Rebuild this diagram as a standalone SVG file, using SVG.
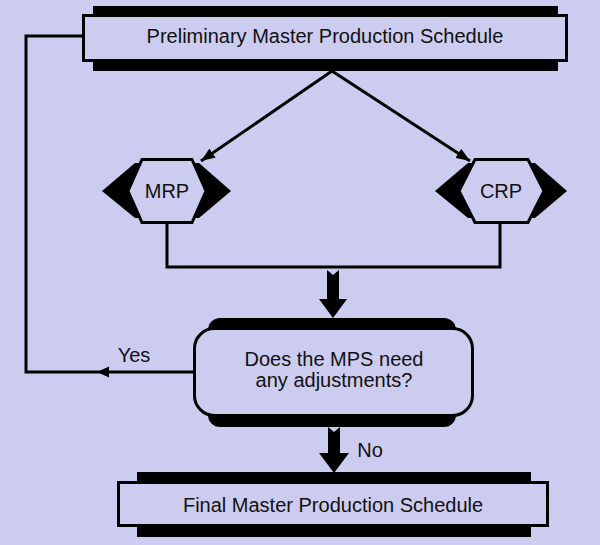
<svg xmlns="http://www.w3.org/2000/svg" width="600" height="545" viewBox="0 0 600 545">
<style>
.bg{fill:#CCCCF0}
.shadow{fill:#000}
.front{fill:#CCCCF0;stroke:#000;stroke-width:3}
.line{fill:none;stroke:#000;stroke-width:3}
.lbl{font-family:"Liberation Sans",Arial,sans-serif;font-size:20px;fill:#111;text-anchor:middle}
</style>
<defs>
<marker id="ah" markerUnits="userSpaceOnUse" markerWidth="15" markerHeight="11" refX="14" refY="5.5" orient="auto">
<path d="M0,0 L14,5.5 L0,11 z" fill="#000"/>
</marker>
</defs>
<rect class="bg" x="0" y="0" width="600" height="545"/>
<g id="connectors">
<line class="line" x1="332" y1="71" x2="201" y2="161" marker-end="url(#ah)"/>
<line class="line" x1="332" y1="71" x2="470" y2="161" marker-end="url(#ah)"/>
<polyline class="line" points="167,223 167,267 500,267 500,223"/>
<polygon class="shadow" points="327,270 333,275 339,270 339,299 347,299 333,318 319,299 327,299"/>
<polyline class="line" points="193,372 26,372 26,36 83,36"/>
<polygon class="shadow" points="97,372 109,366.5 109,377.5"/>
<polygon class="shadow" points="328,427 334,432 340,427 340,453 349,453 334,473 319,453 328,453"/>
<text class="lbl" x="134" y="362">Yes</text>
<text class="lbl" x="370" y="457">No</text>
</g>
<g id="prelim-mps">
<rect class="shadow" x="93" y="6" width="465" height="65"/>
<rect class="front" x="83.5" y="15.5" width="483" height="45"/>
<text class="lbl" x="325" y="43">Preliminary Master Production Schedule</text>
</g>
<g id="mrp">
<polygon class="shadow" points="135,163 199,163 231,191 199,218 135,218 102,191"/>
<polygon class="front" points="142,159.5 192,159.5 206,191 192,222.5 142,222.5 128,191"/>
<text class="lbl" x="167" y="198">MRP</text>
</g>
<g id="crp">
<polygon class="shadow" points="468,163 535,163 567,191 535,218 468,218 435,191"/>
<polygon class="front" points="475,159.5 528,159.5 544,191 528,222.5 475,222.5 459,191"/>
<text class="lbl" x="501" y="198">CRP</text>
</g>
<g id="decision">
<rect class="shadow" x="208" y="318" width="248" height="109" rx="12"/>
<rect class="front" x="194.5" y="328.5" width="278" height="87" rx="20"/>
<text class="lbl" x="334" y="366">Does the MPS need</text>
<text class="lbl" x="334" y="387">any adjustments?</text>
</g>
<g id="final-mps">
<rect class="shadow" x="137" y="472" width="394" height="65"/>
<rect class="front" x="118.5" y="482.5" width="429" height="43"/>
<text class="lbl" x="333" y="512">Final Master Production Schedule</text>
</g>
</svg>
